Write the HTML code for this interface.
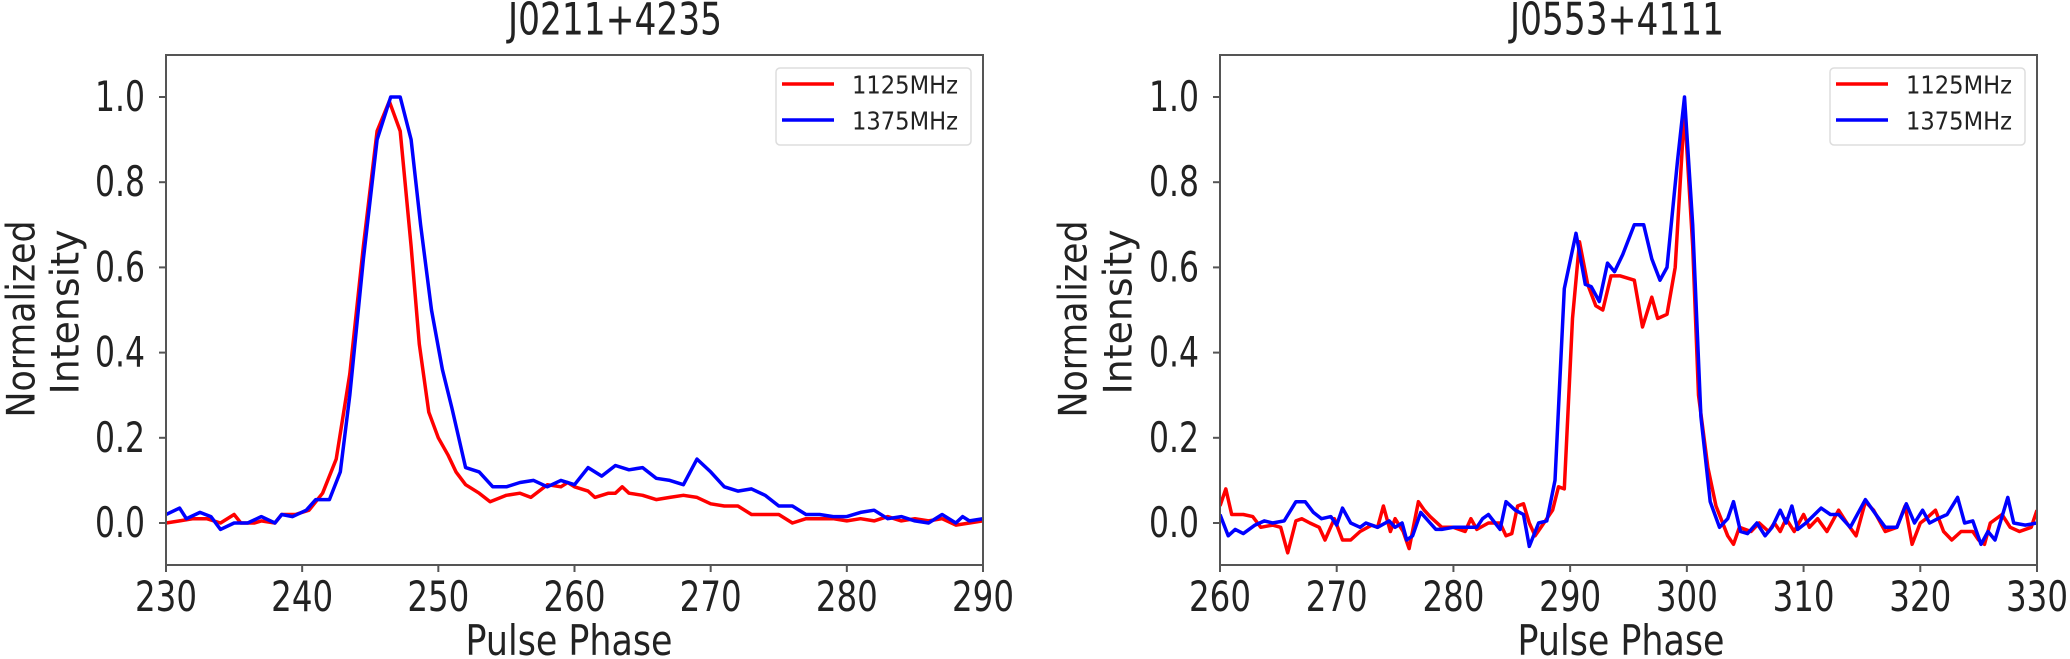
<!DOCTYPE html>
<html><head><meta charset="utf-8"><style>
html,body{margin:0;padding:0;background:#fff;}
svg{display:block;}
text{font-family:"DejaVu Sans","Liberation Sans",sans-serif;fill:#222;}
</style></head><body>
<svg id="s" width="2070" height="659" xmlns="http://www.w3.org/2000/svg">
<rect width="2070" height="659" fill="#fff"/>
</svg>
<script>
const S=document.getElementById('s');const NS='http://www.w3.org/2000/svg';
function el(t,a,p){const e=document.createElementNS(NS,t);for(const k in a)e.setAttribute(k,a[k]);(p||S).appendChild(e);return e;}
function T(x,y,s,size,anchor,len,rot,sy){
  const g=el('g',{transform:`translate(${x},${y})`+(rot?' rotate(-90)':'')+` scale(1,${sy||1.3})`});
  const a={x:0,y:0,'font-size':size,'text-anchor':anchor||'middle','dominant-baseline':'central'};
  if(len){a.textLength=len;a.lengthAdjust='spacingAndGlyphs';}
  const t=el('text',a,g);t.textContent=s;}
const y0=523,ys=426;
function Y(v){return y0-v*ys;}
function plot(o){
  const X=v=>o.L+(v-o.x0)*(o.R-o.L)/(o.x1-o.x0);
  const cp=el('clipPath',{id:'c'+o.L});el('rect',{x:o.L,y:55,width:o.R-o.L,height:510},cp);
  for(const [d,c] of [[o.red,'#ff0000'],[o.blue,'#0000ff']]){
    let p='';for(let i=0;i<d.length;i+=2)p+=(i?'L':'M')+X(d[i]).toFixed(1)+','+Y(d[i+1]).toFixed(1);
    el('path',{d:p,fill:'none',stroke:c,'stroke-width':3.5,'stroke-linejoin':'round','clip-path':`url(#c${o.L})`});
  }
  el('rect',{x:o.L,y:55,width:o.R-o.L,height:510,fill:'none',stroke:'#555','stroke-width':2});
  for(let v=o.x0;v<=o.x1;v+=10){const x=X(v);el('line',{x1:x,x2:x,y1:565,y2:572,stroke:'#555','stroke-width':2});T(x,597,String(v),32,'middle',62);}
  for(let k=0;k<=5;k++){const v=k*0.2,y=Y(v);el('line',{x1:o.L-7,x2:o.L,y1:y,y2:y,stroke:'#555','stroke-width':2});T(o.L-21,y,v.toFixed(1),32,'end',50);}
  T(o.tx,20,o.title,34,'middle',214);
  T(o.px,641,'Pulse Phase',32,'middle',207);
  T(o.n1,319,'Normalized',34,'middle',197,true,1.15);
  T(o.n2,312,'Intensity',34,'middle',165,true,1.15);
  const lx=o.R-207;
  el('rect',{x:lx,y:68,width:195,height:77,rx:4,fill:'#fff',stroke:'#ddd','stroke-width':1.5});
  el('line',{x1:lx+6,x2:lx+58,y1:84,y2:84,stroke:'#ff0000','stroke-width':3.5});
  el('line',{x1:lx+6,x2:lx+58,y1:120,y2:120,stroke:'#0000ff','stroke-width':3.5});
  T(lx+76,86,'1125MHz',19,'start',106);
  T(lx+76,122,'1375MHz',19,'start',106);
}
plot({L:166,R:983,x0:230,x1:290,title:'J0211+4235',tx:615,px:569,n1:21,n2:65,
red:[230,0,231,.005,232,.01,233,.01,234,0,235,.02,235.5,0,236.5,0,237,.005,238,0,238.5,.02,239.5,.02,240.5,.03,241.5,.07,242.5,.15,243.5,.35,244.5,.65,245.5,.92,246.4,.99,247.2,.92,248,.65,248.6,.42,249.3,.26,250,.2,250.7,.16,251.3,.12,252,.09,253,.07,253.8,.05,255,.065,256,.07,256.8,.06,258,.09,259,.085,259.5,.095,260,.085,261,.075,261.5,.06,262.5,.07,263,.07,263.5,.085,264,.07,265,.065,266,.055,267,.06,268,.065,269,.06,270,.045,271,.04,272,.04,273,.02,274,.02,275,.02,276,0,277,.01,278,.01,279,.01,280,.005,281,.01,282,.005,283,.015,284,.005,285,.01,286,.005,287,.01,288,-.005,289,0,290,.005],
blue:[230,.02,231,.035,231.5,.01,232.5,.025,233.3,.015,234,-.015,235,0,236,0,237,.015,238,0,238.5,.02,239.3,.015,240.3,.03,241,.055,242,.055,242.8,.12,243.5,.3,244.5,.62,245.5,.9,246.5,1,247.2,1,248,.9,248.7,.7,249.5,.5,250.3,.36,251,.27,252,.13,253,.12,254,.085,255,.085,256,.095,257,.1,258,.085,259,.1,260,.09,261,.13,262,.11,263,.135,264,.125,265,.13,266,.105,267,.1,268,.09,269,.15,270,.12,271,.085,272,.075,273,.08,274,.065,275,.04,276,.04,277,.02,278,.02,279,.015,280,.015,281,.025,282,.03,283,.01,284,.015,285,.005,286,0,287,.02,288,0,288.5,.015,289,.005,290,.01]});
plot({L:1220,R:2037,x0:260,x1:330,title:'J0553+4111',tx:1617,px:1621,n1:1073,n2:1118,
red:[260,.04,260.5,.08,261,.02,262,.02,262.8,.015,263.5,-.01,264.5,-.005,265.2,-.01,265.8,-.07,266.5,.005,267,.01,267.7,0,268.5,-.01,269,-.04,269.8,.01,270.5,-.04,271.2,-.04,272,-.02,273,-.005,273.5,-.01,274,.04,274.6,-.02,275,.01,275.7,-.02,276.2,-.06,277,.05,277.5,.03,278,.015,279,-.01,280,-.01,281,-.02,281.5,.01,282,-.015,283,0,284,0,284.5,-.03,285,-.025,285.5,.04,286,.045,286.5,0,287,-.03,287.5,-.01,288.5,.03,289,.085,289.5,.08,290.2,.48,290.8,.66,291.5,.56,292.2,.51,292.8,.5,293.5,.58,294.3,.58,295.5,.57,296.2,.46,297,.53,297.5,.48,298.3,.49,299,.6,299.8,.97,300.5,.65,301,.3,301.8,.13,302.5,.04,303.5,-.03,304,-.05,304.5,-.01,305.5,-.02,306.2,0,307,-.02,307.5,0,308,-.02,308.5,.01,309.2,-.02,310,.02,310.5,-.01,311.2,.01,312,-.02,313,.03,313.7,0,314.5,-.03,315.3,.05,316,.03,317,-.02,318,-.01,318.7,.04,319.3,-.05,320,0,320.5,.01,321.3,.03,322,-.02,322.7,-.04,323.5,-.02,324.5,-.02,325,-.04,325.5,-.05,326,0,327,.02,327.7,-.01,328.5,-.02,329.5,-.01,330,.03],
blue:[260,.02,260.7,-.03,261.3,-.015,262,-.025,263,-.005,263.8,.005,264.5,0,265.5,.005,266.5,.05,267.3,.05,268,.025,268.7,.01,269.5,.015,270,-.005,270.5,.035,271.2,0,272,-.01,272.5,0,273.5,-.01,274.5,.005,275,-.01,275.6,0,276,-.04,276.5,-.03,277.2,.025,278,0,278.5,-.015,279,-.015,280,-.01,281,-.01,282,-.01,282.5,.01,283,.02,284,-.015,284.5,.05,285.3,.03,286,.02,286.5,-.055,287.3,0,288,.005,288.7,.1,289.5,.55,290.5,.68,291.3,.56,291.8,.555,292.5,.52,293.2,.61,293.8,.59,294.5,.63,295.5,.7,296.3,.7,297,.62,297.7,.57,298.3,.6,299.2,.85,299.8,1,300.5,.7,301.2,.25,302,.05,302.8,-.01,303.5,.01,304,.05,304.6,-.02,305.2,-.025,306,0,306.7,-.03,307.3,-.01,308,.03,308.5,0,309,.04,309.5,-.015,310.2,0,311.5,.035,312.3,.02,313,.02,314,-.01,315.3,.055,316.2,.02,317,-.01,318,-.01,318.8,.045,319.5,0,320.2,.03,320.8,0,321.5,.01,322.3,.02,323.2,.06,323.8,0,324.5,.005,325.2,-.05,325.8,-.02,326.4,-.04,327.5,.06,328,0,329,-.005,330,0]});
</script>
</body></html>
